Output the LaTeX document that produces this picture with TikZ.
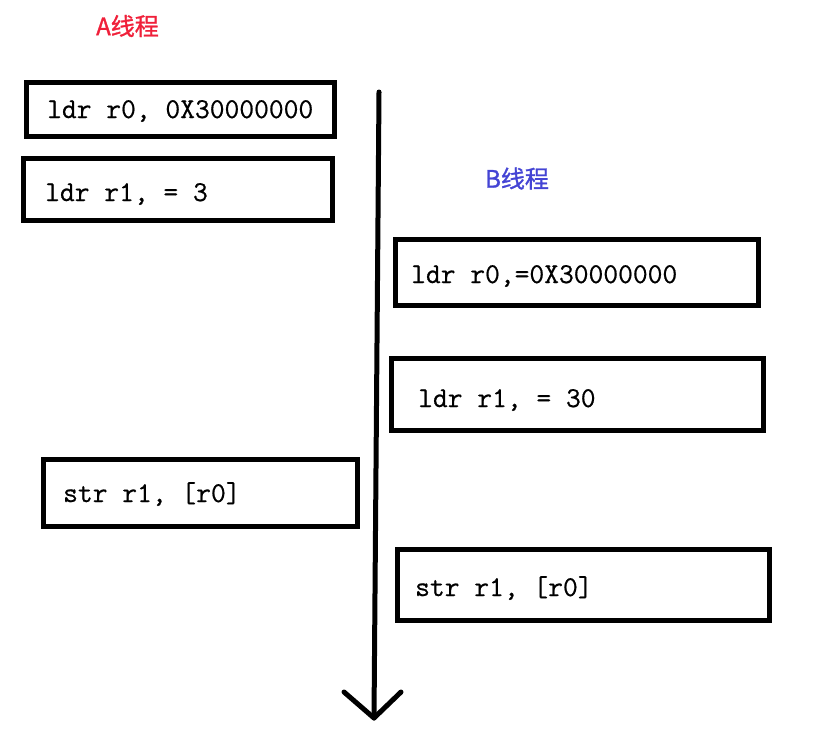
\documentclass[tikz,border=0pt]{standalone}
\usepackage{fontspec}
\newfontfamily\cjk[FakeBold=1.2]{Noto Sans CJK SC}
\newfontfamily\codefont[FakeBold=0.6]{Latin Modern Mono}
\definecolor{ared}{HTML}{F0203A}
\definecolor{bblue}{HTML}{4444D4}
\tikzset{
  codebox/.style={draw=black, line width=5pt, rectangle, inner sep=0pt},
  codetext/.style={anchor=base west, inner sep=0pt, font=\codefont\fontsize{28.7}{32}\selectfont},
  threadlabel/.style={inner sep=0pt, font=\cjk\fontsize{24}{27}\selectfont},
  timeline/.style={line width=5pt, line cap=round, line join=round}
}
\begin{document}
\begin{tikzpicture}[x=1pt,y=-1pt]
\useasboundingbox (0,0) rectangle (813,732);
% thread labels
\node[threadlabel, text=ared] (la) at (127.5,26) {A线程};
\node[threadlabel, text=bblue] (lb) at (517,178.5) {B线程};
% boxes
\node[codebox, minimum width=307.5pt, minimum height=54pt] (b1) at (180.25,109.5) {};
\node[codebox, minimum width=309pt, minimum height=62pt] (b2) at (177.5,189) {};
\node[codebox, minimum width=363pt, minimum height=66pt] (b3) at (577,272.5) {};
\node[codebox, minimum width=372pt, minimum height=72pt] (b4) at (577.5,394.5) {};
\node[codebox, minimum width=314pt, minimum height=67pt] (b5) at (200.5,493) {};
\node[codebox, minimum width=372pt, minimum height=71pt] (b6) at (583.5,585) {};
% texts
\node[codetext] (t1) at (47,118) {ldr r0, 0X30000000};
\node[codetext] (t2) at (45,201) {ldr r1, = 3};
\node[codetext] (t3) at (411,283) {ldr r0,=0X30000000};
\node[codetext] (t4) at (418,407) {ldr r1, = 30};
\node[codetext] (t5) at (63,502) {str r1, [r0]};
\node[codetext] (t6) at (415,596) {str r1, [r0]};
% timeline arrow
\coordinate (top) at (379,92);
\coordinate (tip) at (374,718);
\coordinate (armL) at (344,692);
\coordinate (armR) at (401,692);
\draw[timeline] (top) -- (tip);
\draw[timeline] (armL) -- (tip) -- (armR);
\end{tikzpicture}
\end{document}
